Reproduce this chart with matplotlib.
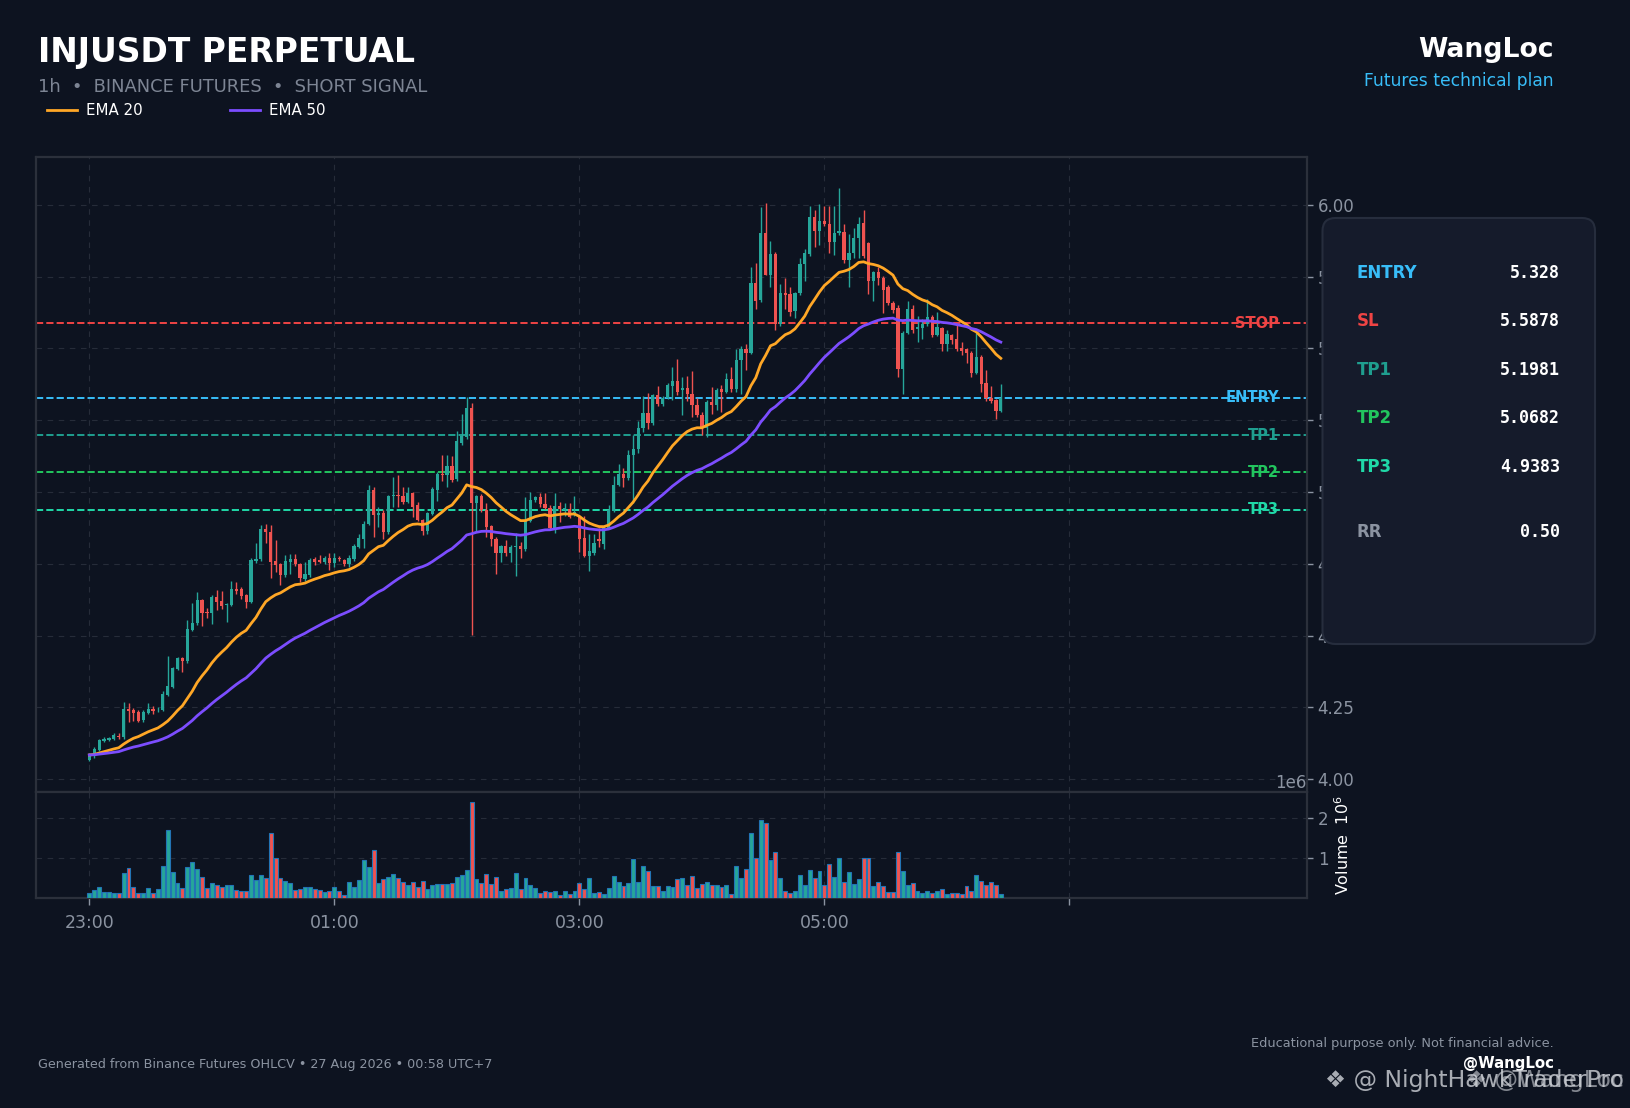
import numpy as np
import pandas as pd
import matplotlib
matplotlib.use("Agg")
import matplotlib.pyplot as plt
from matplotlib.patches import FancyBboxPatch
from matplotlib.transforms import blended_transform_factory, IdentityTransform
from matplotlib.ticker import MultipleLocator, FormatStrFormatter

# ---------------- data ----------------
opens = [
    4.067, 4.081, 4.101, 4.134, 4.136, 4.140, 4.151, 4.148, 4.243, 4.240,
    4.235, 4.206, 4.231, 4.244, 4.239, 4.241, 4.293, 4.322, 4.385, 4.422,
    4.411, 4.521, 4.545, 4.624, 4.582, 4.577, 4.633, 4.621, 4.606, 4.608,
    4.661, 4.661, 4.641, 4.618, 4.759, 4.766, 4.870, 4.859, 4.759, 4.748,
    4.711, 4.757, 4.768, 4.749, 4.697, 4.710, 4.765, 4.762, 4.756, 4.771,
    4.753, 4.771, 4.763, 4.749, 4.766, 4.809, 4.836, 4.888, 5.006, 4.920,
    4.927, 4.860, 4.985, 4.987, 4.985, 4.966, 4.995, 4.954, 4.902, 4.865,
    4.924, 5.006, 5.062, 5.058, 5.090, 5.045, 5.172, 5.192, 5.294, 4.962,
    4.985, 4.939, 4.881, 4.838, 4.788, 4.811, 4.788, 4.809, 4.813, 4.800,
    4.900, 4.972, 4.981, 4.958, 4.943, 4.876, 4.952, 4.936, 4.940, 4.925,
    4.913, 4.840, 4.777, 4.786, 4.837, 4.818, 4.876, 4.935, 5.026, 5.061,
    5.048, 5.129, 5.149, 5.224, 5.276, 5.239, 5.339, 5.307, 5.329, 5.370,
    5.386, 5.357, 5.361, 5.342, 5.302, 5.270, 5.223, 5.315, 5.302, 5.358,
    5.350, 5.392, 5.358, 5.460, 5.497, 5.484, 5.729, 5.669, 5.902, 5.757,
    5.828, 5.586, 5.692, 5.689, 5.629, 5.692, 5.796, 5.828, 5.957, 5.910,
    5.945, 5.934, 5.871, 5.902, 5.907, 5.807, 5.831, 5.886, 5.938, 5.866,
    5.736, 5.765, 5.744, 5.713, 5.658, 5.642, 5.429, 5.555, 5.639, 5.568,
    5.571, 5.587, 5.610, 5.547, 5.571, 5.515, 5.547, 5.534, 5.500, 5.497,
    5.484, 5.413, 5.471, 5.381, 5.329, 5.321, 5.283,
]
highs = [
    4.090, 4.113, 4.140, 4.145, 4.148, 4.162, 4.162, 4.270, 4.266, 4.248,
    4.240, 4.240, 4.264, 4.254, 4.250, 4.307, 4.428, 4.392, 4.426, 4.426,
    4.555, 4.614, 4.651, 4.628, 4.597, 4.640, 4.658, 4.656, 4.612, 4.690,
    4.688, 4.670, 4.646, 4.770, 4.824, 4.884, 4.887, 4.884, 4.834, 4.751,
    4.779, 4.783, 4.783, 4.753, 4.757, 4.769, 4.775, 4.780, 4.776, 4.786,
    4.786, 4.776, 4.768, 4.780, 4.820, 4.855, 4.900, 5.026, 5.016, 4.947,
    4.936, 4.988, 5.053, 5.059, 5.019, 5.019, 5.000, 4.966, 4.906, 4.931,
    5.019, 5.070, 5.128, 5.128, 5.125, 5.213, 5.273, 5.331, 5.310, 4.990,
    4.994, 4.962, 4.885, 4.842, 4.815, 4.834, 4.815, 4.858, 4.827, 4.983,
    5.001, 4.986, 4.995, 4.995, 4.955, 4.995, 4.966, 4.963, 4.963, 4.985,
    4.918, 4.916, 4.853, 4.853, 4.876, 4.880, 4.955, 5.057, 5.097, 5.085,
    5.145, 5.200, 5.247, 5.334, 5.345, 5.342, 5.370, 5.334, 5.380, 5.437,
    5.465, 5.401, 5.404, 5.421, 5.326, 5.278, 5.320, 5.365, 5.361, 5.374,
    5.413, 5.437, 5.497, 5.508, 5.514, 5.784, 5.799, 5.994, 6.008, 5.875,
    5.835, 5.724, 5.747, 5.713, 5.695, 5.815, 5.847, 5.997, 5.981, 6.005,
    5.997, 5.997, 5.997, 6.060, 5.934, 5.898, 5.918, 5.957, 5.981, 5.870,
    5.771, 5.785, 5.752, 5.720, 5.666, 5.650, 5.560, 5.666, 5.650, 5.614,
    5.603, 5.673, 5.618, 5.626, 5.575, 5.563, 5.550, 5.586, 5.523, 5.503,
    5.490, 5.555, 5.476, 5.424, 5.370, 5.325, 5.376,
]
lows = [
    4.063, 4.075, 4.098, 4.130, 4.132, 4.137, 4.138, 4.140, 4.200, 4.204,
    4.198, 4.200, 4.228, 4.225, 4.232, 4.236, 4.288, 4.316, 4.380, 4.373,
    4.403, 4.515, 4.536, 4.533, 4.562, 4.540, 4.590, 4.592, 4.548, 4.602,
    4.643, 4.628, 4.597, 4.612, 4.753, 4.760, 4.823, 4.699, 4.722, 4.675,
    4.705, 4.713, 4.743, 4.687, 4.690, 4.705, 4.746, 4.752, 4.750, 4.727,
    4.739, 4.760, 4.744, 4.739, 4.760, 4.804, 4.804, 4.885, 4.842, 4.877,
    4.838, 4.855, 4.947, 4.947, 4.958, 4.960, 4.914, 4.899, 4.851, 4.853,
    4.920, 4.970, 5.038, 5.018, 5.035, 5.040, 5.165, 5.185, 4.502, 4.860,
    4.931, 4.842, 4.811, 4.713, 4.757, 4.776, 4.757, 4.709, 4.769, 4.796,
    4.897, 4.965, 4.948, 4.940, 4.870, 4.856, 4.897, 4.916, 4.908, 4.916,
    4.790, 4.774, 4.726, 4.780, 4.808, 4.802, 4.870, 4.930, 5.020, 5.017,
    5.042, 4.963, 5.137, 5.208, 5.218, 5.233, 5.298, 5.301, 5.323, 5.320,
    5.339, 5.267, 5.317, 5.262, 5.262, 5.200, 5.192, 5.271, 5.286, 5.279,
    5.345, 5.350, 5.350, 5.342, 5.424, 5.481, 5.639, 5.661, 5.755, 5.713,
    5.566, 5.578, 5.637, 5.613, 5.605, 5.686, 5.736, 5.822, 5.855, 5.861,
    5.925, 5.832, 5.824, 5.894, 5.799, 5.713, 5.815, 5.815, 5.815, 5.689,
    5.665, 5.720, 5.623, 5.650, 5.623, 5.402, 5.342, 5.550, 5.555, 5.523,
    5.532, 5.580, 5.540, 5.544, 5.492, 5.492, 5.516, 5.492, 5.476, 5.450,
    5.402, 5.410, 5.350, 5.318, 5.310, 5.255, 5.279,
]
closes = [
    4.084, 4.104, 4.136, 4.140, 4.143, 4.154, 4.147, 4.243, 4.237, 4.231,
    4.204, 4.235, 4.244, 4.237, 4.241, 4.296, 4.324, 4.386, 4.422, 4.412,
    4.522, 4.545, 4.624, 4.580, 4.578, 4.635, 4.618, 4.604, 4.608, 4.661,
    4.655, 4.637, 4.618, 4.763, 4.768, 4.870, 4.861, 4.757, 4.745, 4.711,
    4.759, 4.768, 4.749, 4.699, 4.716, 4.763, 4.757, 4.756, 4.771, 4.753,
    4.771, 4.765, 4.749, 4.771, 4.813, 4.840, 4.890, 5.006, 4.919, 4.927,
    4.860, 4.985, 4.987, 4.985, 4.966, 4.995, 4.948, 4.902, 4.865, 4.927,
    5.009, 5.062, 5.058, 5.090, 5.041, 5.177, 5.194, 5.294, 4.962, 4.985,
    4.939, 4.879, 4.838, 4.788, 4.811, 4.788, 4.807, 4.812, 4.803, 4.902,
    4.972, 4.981, 4.958, 4.943, 4.876, 4.952, 4.940, 4.944, 4.913, 4.930,
    4.837, 4.777, 4.793, 4.821, 4.829, 4.876, 4.939, 5.026, 5.061, 5.048,
    5.129, 5.149, 5.224, 5.276, 5.239, 5.339, 5.307, 5.329, 5.373, 5.386,
    5.350, 5.363, 5.342, 5.302, 5.268, 5.223, 5.313, 5.302, 5.354, 5.350,
    5.392, 5.358, 5.460, 5.497, 5.484, 5.729, 5.666, 5.902, 5.757, 5.828,
    5.586, 5.692, 5.686, 5.626, 5.692, 5.796, 5.831, 5.957, 5.910, 5.945,
    5.932, 5.871, 5.902, 5.910, 5.807, 5.831, 5.886, 5.934, 5.823, 5.736,
    5.765, 5.744, 5.702, 5.658, 5.634, 5.429, 5.555, 5.639, 5.566, 5.574,
    5.587, 5.610, 5.547, 5.575, 5.515, 5.550, 5.528, 5.497, 5.492, 5.484,
    5.413, 5.471, 5.377, 5.326, 5.318, 5.283, 5.329,
]
volumes_m = [
    0.12, 0.20, 0.28, 0.15, 0.15, 0.12, 0.12, 0.63, 0.75, 0.29,
    0.14, 0.14, 0.25, 0.14, 0.23, 0.80, 1.70, 0.65, 0.38, 0.25,
    0.78, 0.90, 0.73, 0.54, 0.25, 0.38, 0.32, 0.29, 0.32, 0.32,
    0.21, 0.19, 0.19, 0.59, 0.46, 0.59, 0.50, 1.63, 1.00, 0.50,
    0.44, 0.38, 0.21, 0.23, 0.28, 0.28, 0.23, 0.21, 0.15, 0.18,
    0.28, 0.18, 0.08, 0.40, 0.28, 0.46, 0.94, 0.78, 1.19, 0.39,
    0.49, 0.54, 0.60, 0.50, 0.40, 0.33, 0.40, 0.28, 0.44, 0.23,
    0.32, 0.35, 0.35, 0.35, 0.38, 0.54, 0.57, 0.71, 2.40, 0.48,
    0.39, 0.60, 0.35, 0.53, 0.18, 0.23, 0.25, 0.63, 0.23, 0.50,
    0.32, 0.25, 0.14, 0.17, 0.16, 0.19, 0.08, 0.17, 0.10, 0.19,
    0.39, 0.23, 0.50, 0.14, 0.16, 0.10, 0.25, 0.56, 0.40, 0.31,
    0.39, 0.97, 0.40, 0.80, 0.68, 0.31, 0.31, 0.17, 0.31, 0.28,
    0.48, 0.50, 0.34, 0.56, 0.25, 0.36, 0.40, 0.33, 0.33, 0.28,
    0.33, 0.10, 0.80, 0.51, 0.73, 1.61, 0.99, 1.95, 1.86, 0.95,
    1.16, 0.50, 0.19, 0.14, 0.19, 0.57, 0.33, 0.70, 0.50, 0.68,
    0.33, 0.85, 0.53, 1.01, 0.40, 0.65, 0.36, 0.48, 0.99, 0.99,
    0.31, 0.40, 0.31, 0.16, 0.16, 1.14, 0.67, 0.34, 0.39, 0.17,
    0.14, 0.19, 0.14, 0.17, 0.22, 0.11, 0.14, 0.14, 0.10, 0.31,
    0.19, 0.59, 0.42, 0.34, 0.40, 0.34, 0.11,
]
time_tick_pos = [0, 50, 100, 150, 200]
time_tick_labels = ["23:00", "01:00", "03:00", "05:00", ""]

level_names = ["STOP", "ENTRY", "TP1", "TP2", "TP3"]
level_values = [5.5878, 5.328, 5.1981, 5.0682, 4.9383]

panel_labels = ["ENTRY", "SL", "TP1", "TP2", "TP3", "RR"]
panel_values = ["5.328", "5.5878", "5.1981", "5.0682", "4.9383", "0.50"]

# ---------------- style ----------------
W, H = 1631, 1108
BG = "#0d1320"
GRID = "#262c39"
SPINE = "#2b303b"
TICK = "#8b93a1"
UP = "#26a69a"
DOWN = "#ef5350"
EMA20_C = "#ffa726"
EMA50_C = "#7c4dff"
level_colors = ["#ef4444", "#38bdf8", "#1f9e8f", "#22c55e", "#20d9a8"]
panel_colors = ["#38bdf8", "#ef4444", "#1f9e8f", "#22c55e", "#20d9a8", "#8b93a1"]


def fx(x):
    return x / W


def fy(y):
    return 1 - y / H


o = np.array(opens)
h = np.array(highs)
l = np.array(lows)
c = np.array(closes)
v = np.array(volumes_m) * 1e6
x = np.arange(len(c))
up = c >= o
cols = np.where(up, UP, DOWN)

ema20 = pd.Series(c).ewm(span=20, adjust=False).mean()
ema50 = pd.Series(c).ewm(span=50, adjust=False).mean()

fig = plt.figure(figsize=(W / 100, H / 100), dpi=100, facecolor=BG)
ax = fig.add_axes([fx(36.4), fy(792), fx(1306.6) - fx(36.4), fy(157) - fy(792)])
axv = fig.add_axes([fx(36.4), fy(898.3), fx(1306.6) - fx(36.4), fy(792) - fy(898.3)], sharex=ax)

for a in (ax, axv):
    a.set_facecolor(BG)
    for s in a.spines.values():
        s.set_color(SPINE)
        s.set_linewidth(1.6)
    a.grid(True, color=GRID, linestyle=(0, (5, 5)), linewidth=0.8)
    a.set_axisbelow(True)

# candles
ax.vlines(x, l, h, colors=cols, linewidth=1.0, zorder=3)
body = np.maximum(np.abs(c - o), 0.003)
ax.bar(x, body, bottom=np.minimum(o, c), width=0.66, color=cols, linewidth=0, zorder=4)

l20, = ax.plot(x, ema20, color=EMA20_C, linewidth=2.0, zorder=5, label="EMA 20")
l50, = ax.plot(x, ema50, color=EMA50_C, linewidth=2.0, zorder=5, label="EMA 50")

trans = blended_transform_factory(ax.transAxes, ax.transData)
for name, val, col in zip(level_names, level_values, level_colors):
    ax.axhline(val, color=col, linestyle="--", linewidth=1.4, zorder=2)
    ax.text(0.9783, val, name, transform=trans, ha="right", va="center",
            color=col, fontsize=10.5, fontweight="bold", zorder=6)

ax.set_xlim(-10.8, 248.4)
ax.set_ylim(3.955, 6.167)
ax.yaxis.tick_right()
ax.yaxis.set_major_locator(MultipleLocator(0.25))
ax.yaxis.set_major_formatter(FormatStrFormatter("%.2f"))
ax.tick_params(axis="y", colors=TICK, labelsize=12, length=4, width=1, pad=4)
ax.tick_params(axis="x", bottom=False, labelbottom=False)

# volume
axv.bar(x, v, width=0.8, color=cols, edgecolor="#2274b5", linewidth=0.8, zorder=3)
axv.set_ylim(0, v.max() * 1.1)
axv.yaxis.tick_right()
axv.set_yticks([1e6, 2e6])
axv.tick_params(axis="y", colors=TICK, labelsize=12, length=4, width=1, pad=4)
axv.yaxis.get_offset_text().set_color(TICK)
axv.yaxis.get_offset_text().set_fontsize(12)
axv.set_xticks(time_tick_pos)
axv.set_xticklabels(time_tick_labels)
axv.tick_params(axis="x", colors=TICK, labelsize=12.5, length=5, width=1, pad=6)
fig.text(fx(1343), fy(845), "Volume  $10^{6}$", rotation=90, color="white",
         fontsize=11.5, ha="center", va="center")

# headers
fig.text(fx(38), fy(62), "INJUSDT PERPETUAL", color="white", fontsize=23.8,
         fontweight="bold", ha="left", va="baseline")
fig.text(fx(38), fy(92), "1h  \u2022  BINANCE FUTURES  \u2022  SHORT SIGNAL",
         color="#7d8594", fontsize=12.9, ha="left", va="baseline")
fig.legend(handles=[l20, l50], loc="center left",
           bbox_to_anchor=(fx(47), fy(110.5)), bbox_transform=fig.transFigure,
           ncol=2, frameon=False, fontsize=10.8, labelcolor="white",
           handlelength=2.0, handletextpad=0.6, columnspacing=5.85,
           borderpad=0, borderaxespad=0)
fig.text(fx(1554), fy(57), "WangLoc", color="white", fontsize=19.2,
         fontweight="bold", ha="right", va="baseline")
fig.text(fx(1554), fy(86), "Futures technical plan", color="#38bdf8",
         fontsize=12.35, ha="right", va="baseline")

# panel
panel = FancyBboxPatch((1322.5, H - 644), 272.5, 426,
                       boxstyle="round,pad=0,rounding_size=13",
                       transform=IdentityTransform(), facecolor="#151b2b",
                       edgecolor="#262d3d", linewidth=1.5, zorder=10)
fig.add_artist(panel)
row_y = [277.7, 326, 374.7, 423.3, 471.7, 536.7]
for lab, val, col, yy in zip(panel_labels, panel_values, panel_colors, row_y):
    fig.text(fx(1357), fy(yy), lab, color=col, fontsize=12, fontweight="bold",
             ha="left", va="baseline", zorder=11)
    fig.text(fx(1560), fy(yy), val, color="white", fontsize=12,
             fontweight="bold", family="DejaVu Sans Mono",
             ha="right", va="baseline", zorder=11)

# footer
fig.text(fx(38), fy(1068), "Generated from Binance Futures OHLCV \u2022 27 Aug 2026 \u2022 00:58 UTC+7",
         color=TICK, fontsize=9.22, ha="left", va="baseline")
fig.text(fx(1554), fy(1047), "Educational purpose only. Not financial advice.",
         color=TICK, fontsize=9.3, ha="right", va="baseline")
fig.text(fx(1554), fy(1068), "@WangLoc", color="white", fontsize=10.8,
         fontweight="bold", ha="right", va="baseline")
fig.text(fx(1624), fy(1087), "\u2756 @ NightHawkTraderPro", color="#d0d3d9",
         alpha=0.8, fontsize=16.9, ha="right", va="baseline", zorder=12)
fig.text(fx(1624), fy(1087), "\u2756 @WangLoc", color="#d0d3d9",
         alpha=0.6, fontsize=16.9, ha="right", va="baseline", zorder=12)

fig.savefig("out.png", dpi=100, facecolor=BG)
